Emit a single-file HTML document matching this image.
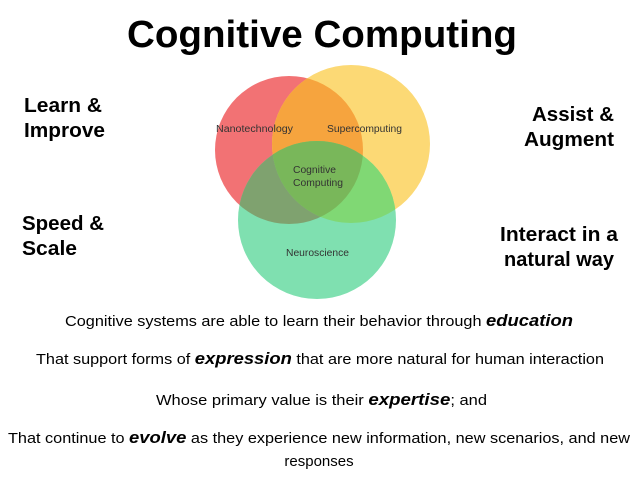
<!DOCTYPE html>
<html><head><meta charset="utf-8"><style>
html,body{margin:0;padding:0;background:#fff;}
svg{display:block;}
</style></head><body>
<svg width="638" height="479" viewBox="0 0 638 479" xmlns="http://www.w3.org/2000/svg" font-family="'Liberation Sans', sans-serif">
<defs>
<clipPath id="cr"><circle cx="289" cy="150" r="74"/></clipPath>
<clipPath id="cy"><circle cx="351" cy="144" r="79"/></clipPath>
<clipPath id="cg"><circle cx="317" cy="220" r="79"/></clipPath>
</defs>
<text x="322" y="47" text-anchor="middle" font-size="38" font-weight="bold" textLength="390" lengthAdjust="spacingAndGlyphs">Cognitive Computing</text>
<circle cx="289" cy="150" r="74" fill="#f27274"/>
<circle cx="351" cy="144" r="79" fill="#fcd975"/>
<circle cx="317" cy="220" r="79" fill="#7fe0b0"/>
<g clip-path="url(#cr)"><circle cx="351" cy="144" r="79" fill="#f6a43e"/><circle cx="317" cy="220" r="79" fill="#7fa26f"/></g>
<g clip-path="url(#cy)"><circle cx="317" cy="220" r="79" fill="#80d874"/></g>
<g clip-path="url(#cr)"><g clip-path="url(#cy)"><circle cx="317" cy="220" r="79" fill="#79b75a"/></g></g>
<g font-size="10" fill="#333">
<text x="216" y="132" textLength="77" lengthAdjust="spacingAndGlyphs">Nanotechnology</text>
<text x="327" y="132" textLength="75" lengthAdjust="spacingAndGlyphs">Supercomputing</text>
<text x="293" y="173" textLength="43" lengthAdjust="spacingAndGlyphs">Cognitive</text>
<text x="293" y="186" textLength="50" lengthAdjust="spacingAndGlyphs">Computing</text>
<text x="286" y="256" textLength="63" lengthAdjust="spacingAndGlyphs">Neuroscience</text>
</g>
<g font-size="20" font-weight="bold">
<text x="24" y="112" textLength="78" lengthAdjust="spacingAndGlyphs">Learn &amp;</text>
<text x="24" y="137" textLength="81" lengthAdjust="spacingAndGlyphs">Improve</text>
<text x="614" y="121" text-anchor="end" textLength="82" lengthAdjust="spacingAndGlyphs">Assist &amp;</text>
<text x="614" y="146" text-anchor="end" textLength="90" lengthAdjust="spacingAndGlyphs">Augment</text>
<text x="22" y="230" textLength="82" lengthAdjust="spacingAndGlyphs">Speed &amp;</text>
<text x="22" y="255" textLength="55" lengthAdjust="spacingAndGlyphs">Scale</text>
<text x="618" y="241" text-anchor="end" textLength="118" lengthAdjust="spacingAndGlyphs">Interact in a</text>
<text x="614" y="266" text-anchor="end" textLength="110" lengthAdjust="spacingAndGlyphs">natural way</text>
</g>
<g font-size="15">
<text x="65" y="326" textLength="508" lengthAdjust="spacingAndGlyphs">Cognitive systems are able to learn their behavior through <tspan font-weight="bold" font-style="italic" font-size="17">education</tspan></text>
<text x="36" y="364" textLength="568" lengthAdjust="spacingAndGlyphs">That support forms of <tspan font-weight="bold" font-style="italic" font-size="17">expression</tspan> that are more natural for human interaction</text>
<text x="156" y="405" textLength="331" lengthAdjust="spacingAndGlyphs">Whose primary value is their <tspan font-weight="bold" font-style="italic" font-size="17">expertise</tspan>; and</text>
<text x="8" y="443" textLength="622" lengthAdjust="spacingAndGlyphs">That continue to <tspan font-weight="bold" font-style="italic" font-size="17">evolve</tspan> as they experience new information, new scenarios, and new</text>
<text x="319" y="466" text-anchor="middle">responses</text>
</g>
</svg>
</body></html>
